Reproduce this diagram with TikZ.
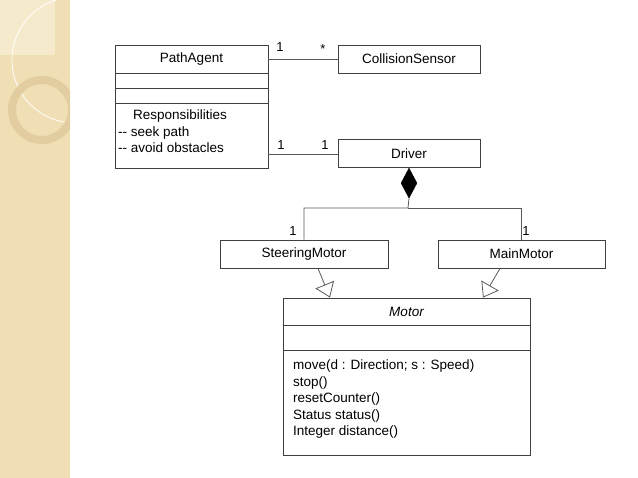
\documentclass[tikz,border=0pt]{standalone}
\usepackage{fontspec}
\setmainfont{Liberation Sans}
\usetikzlibrary{arrows.meta,shapes.geometric}
\definecolor{tan}{RGB}{240,222,180}
\definecolor{tanlight}{RGB}{246,234,205}
\definecolor{ringc}{RGB}{225,205,160}
\begin{document}
\begin{tikzpicture}[x=1pt,y=-1pt,
  box/.style={draw=black!75,thick,rectangle},
  lbl/.style={font=\fontsize{13.5}{16.5}\selectfont},
  mult/.style={font=\fontsize{13}{15}\selectfont,inner sep=1pt},
  conn/.style={draw=black!65,thick},
  gen/.style={draw=black!65,thick,-{Triangle[open,length=14pt,width=20pt]}}]
\useasboundingbox (0,0) rectangle (638,478);
% decorative strip
\fill[tan] (0,0) rectangle (70,478);
\fill[tanlight] (0,0) rectangle (55,55);
\begin{scope}
\clip (0,0) rectangle (70,478);
\draw[white,thick] (75,60) circle (63);
\draw[ringc,line width=8pt] (42,110) circle (30);
\end{scope}
% PathAgent
\node[box,minimum width=153,minimum height=28,lbl] (pa) at (191.5,59) {PathAgent};
\draw[box] (115,73) rectangle (268,168);
\draw[draw=black!75,thick] (115,88) -- (268,88) (115,103) -- (268,103);
\node[lbl,align=left,anchor=north west,inner sep=0pt] (resp) at (118,110)
  {\hspace*{15pt}Responsibilities\\{-}{-} seek path\\{-}{-} avoid obstacles};
\coordinate (paR) at (268,154);
% right side
\node[box,minimum width=142,minimum height=28,lbl] (cs) at (409,59) {CollisionSensor};
\node[box,minimum width=142,minimum height=28,lbl] (dr) at (409,153.5) {Driver};
\draw[conn] (pa.east) -- (cs.west);
\node[mult] at (280,47) {1};
\node[mult] at (323,49) {*};
\draw[conn] (paR) -- (paR -| dr.west);
\node[mult] at (281,145) {1};
\node[mult] at (325,145) {1};
% composition
\node[draw=black,fill=black,diamond,minimum width=16,minimum height=30,inner sep=0pt,anchor=north] (dia) at (dr.south) {};
\node[box,minimum width=168,minimum height=28,lbl] (sm) at (304,254) {SteeringMotor};
\node[box,minimum width=167,minimum height=28,lbl] (mm) at (521.5,254) {MainMotor};
\draw[conn] (dia.south) -- (408,208) -| (sm.north);
\draw[conn] (408,208) -| (mm.north);
\node[mult] at (293,231) {1};
\node[mult] at (526,231) {1};
% Motor
\node[box,minimum width=247,minimum height=27,lbl,font=\fontsize{13.5}{16.5}\selectfont\itshape] (mo) at (406.5,311.5) {Motor};
\draw[box] (283,325) rectangle (530,455);
\draw[draw=black!75,thick] (283,350) -- (530,350);
\node[lbl,align=left,anchor=north west,inner sep=0pt] (ops) at (293,360)
  {move(d : Direction; s : Speed)\\stop()\\resetCounter()\\Status status()\\Integer distance()};
\draw[gen] (sm.south -| 318,0) -- (mo.north -| 330,0);
\draw[gen] (mm.south -| 500,0) -- (mo.north -| 483,0);
\end{tikzpicture}
\end{document}
